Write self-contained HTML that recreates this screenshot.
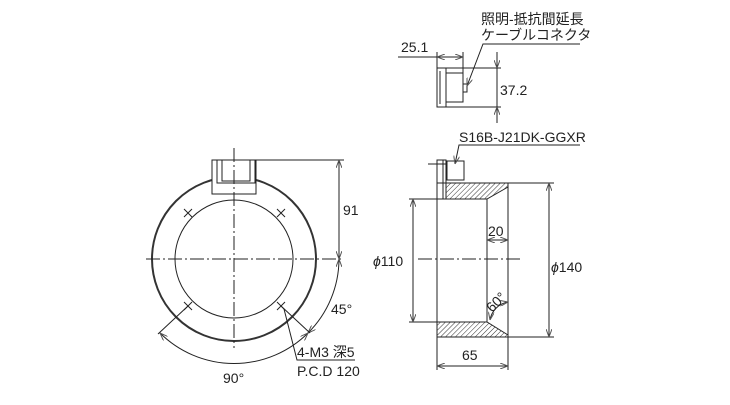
<!DOCTYPE html>
<html><head><meta charset="utf-8"><style>
html,body{margin:0;padding:0;background:#fff;width:730px;height:405px;overflow:hidden}
svg text{font-family:"Liberation Sans","Noto Sans CJK JP",sans-serif;fill:#222}
</style></head><body>
<svg width="730" height="405" viewBox="0 0 730 405" xmlns="http://www.w3.org/2000/svg">
<defs>
<pattern id="h" width="3.5" height="3.5" patternUnits="userSpaceOnUse" patternTransform="rotate(45)">
<rect width="4" height="4" fill="#fff"/><line x1="0" y1="0" x2="0" y2="4" stroke="#333" stroke-width="1"/></pattern>
<marker id="a" markerWidth="8" markerHeight="6" refX="8" refY="3" orient="auto-start-reverse" markerUnits="userSpaceOnUse"><path d="M0,0 L8,3 L0,6" fill="none" stroke="#555" stroke-width="1"/></marker>
</defs>
<g stroke="#222" fill="none" stroke-width="1">
<!-- front view -->
<circle cx="234" cy="259" r="82" stroke-width="2" stroke="#333"/>
<circle cx="234" cy="259" r="59"/>
<rect x="212" y="160" width="44" height="34" fill="#fff"/>
<rect x="217" y="160" width="38" height="23"/>
<rect x="222" y="160" width="28" height="21"/>
<line x1="234" y1="148" x2="234" y2="348" stroke-dasharray="14,3,2,3"/>
<line x1="146" y1="259" x2="344" y2="259" stroke-dasharray="14,3,2,3"/>
<path d="M184,209l8,8M192,209l-8,8M277,209l8,8M285,209l-8,8M184,302l8,8M192,302l-8,8M277,302l8,8M285,302l-8,8"/>
<line x1="256" y1="160" x2="344" y2="160"/>
<line x1="339" y1="160" x2="339" y2="259" marker-start="url(#a)" marker-end="url(#a)"/>
<path d="M339,259 A105,105 0 0 1 308,333" marker-start="url(#a)" marker-end="url(#a)"/>
<path d="M308,333 A105,105 0 0 1 160,333" marker-start="url(#a)" marker-end="url(#a)"/>
<line x1="188" y1="306" x2="158" y2="334"/>
<line x1="281" y1="306" x2="310" y2="333"/>
<polyline points="284,309 297,360 355,360" />
<!-- side view -->
<polygon points="447,183 508,183 508,187 487,199 437,199 437,183" fill="url(#h)"/>
<polygon points="437,322 487,322 508,335 508,337 437,337" fill="url(#h)"/>
<rect x="437" y="160" width="9" height="39" fill="#fff"/>
<line x1="443" y1="160" x2="443" y2="199"/>
<rect x="447" y="161" width="17" height="19" fill="#fff"/>
<line x1="428" y1="164" x2="446" y2="164"/>
<line x1="437" y1="183" x2="508" y2="183"/>
<line x1="508" y1="183" x2="508" y2="337"/>
<line x1="437" y1="199" x2="437" y2="337"/>
<line x1="487" y1="199" x2="487" y2="322"/>
<line x1="437" y1="337" x2="508" y2="337"/>
<line x1="418" y1="259" x2="522" y2="259" stroke-dasharray="14,3,2,3"/>
<line x1="409" y1="199" x2="437" y2="199"/><line x1="409" y1="322" x2="437" y2="322"/>
<line x1="413" y1="199" x2="413" y2="322" marker-start="url(#a)" marker-end="url(#a)"/>
<line x1="508" y1="183" x2="554" y2="183"/><line x1="508" y1="337" x2="554" y2="337"/>
<line x1="549" y1="183" x2="549" y2="337" marker-start="url(#a)" marker-end="url(#a)"/>
<line x1="487" y1="240" x2="508" y2="240" marker-start="url(#a)" marker-end="url(#a)"/>
<line x1="437" y1="337" x2="437" y2="370"/><line x1="508" y1="337" x2="508" y2="370"/>
<line x1="437" y1="366" x2="508" y2="366" marker-start="url(#a)" marker-end="url(#a)"/>
<path d="M490,320 A22,22 0 0 1 508,302" marker-start="url(#a)" marker-end="url(#a)"/>
<polyline points="580,145 459,145 455,164" marker-end="url(#a)"/>
<!-- top view -->
<rect x="437" y="68" width="9" height="39"/>
<line x1="440" y1="71" x2="440" y2="104"/>
<rect x="446" y="73" width="17" height="29"/>
<rect x="463" y="84" width="4" height="8"/>
<line x1="437" y1="52" x2="437" y2="68"/><line x1="463" y1="52" x2="463" y2="73"/>
<line x1="398" y1="57" x2="437" y2="57"/>
<line x1="437" y1="57" x2="463" y2="57" marker-start="url(#a)" marker-end="url(#a)"/>
<line x1="446" y1="68" x2="501" y2="68"/><line x1="446" y1="107" x2="501" y2="107"/>
<line x1="497" y1="52" x2="497" y2="68" marker-end="url(#a)"/>
<line x1="497" y1="123" x2="497" y2="107" marker-end="url(#a)"/>
<line x1="497" y1="68" x2="497" y2="107"/>
<polyline points="580,44 483,44 467,86" marker-end="url(#a)"/>
</g>
<g font-size="14">
<text x="343" y="215">91</text>
<text x="331" y="314">45°</text>
<text x="223" y="383">90°</text>
<text x="297" y="357">4-M3 深5</text>
<text x="297" y="376">P.C.D 120</text>
<text x="373" y="266"><tspan font-style="italic">ϕ</tspan>110</text>
<text x="551" y="272"><tspan font-style="italic">ϕ</tspan>140</text>
<text x="488" y="236">20</text>
<text x="462" y="360">65</text>
<text x="0" y="0" transform="translate(492,313) rotate(-45)">60°</text>
<text x="459" y="142">S16B-J21DK-GGXR</text>
<text x="401" y="52">25.1</text>
<text x="500" y="95">37.2</text>
<text x="481" y="24">照明-抵抗間延長</text>
<text x="481" y="40">ケーブルコネクタ</text>
</g>
</svg>
</body></html>
